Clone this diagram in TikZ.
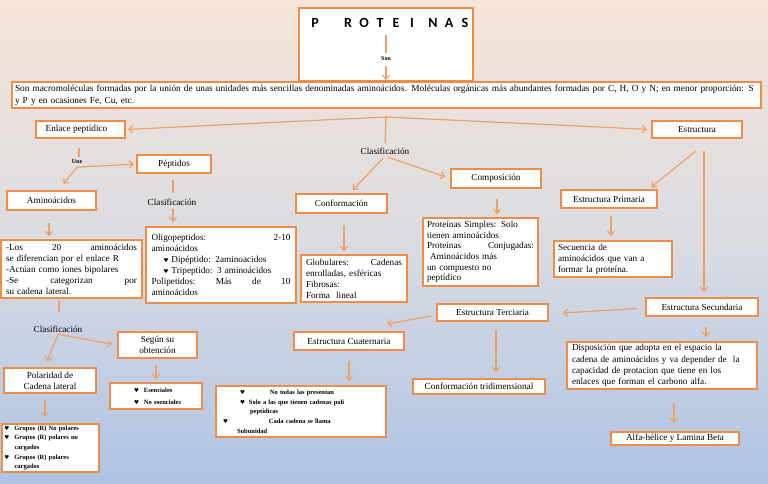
\documentclass[tikz,border=0pt]{standalone}
\usepackage{fontspec}
\setmainfont{Liberation Serif}
\newfontfamily\symf{DejaVu Sans}
\newfontfamily\titf{Carlito}
\usetikzlibrary{arrows.meta}
\definecolor{boxc}{RGB}{240,140,70}
\definecolor{arc}{RGB}{240,160,100}
\definecolor{bgtop}{RGB}{246,229,216}
\definecolor{bgmid}{RGB}{218,220,226}
\definecolor{bgbot}{RGB}{174,195,228}
\newcommand\fsz[2]{\fontsize{#1}{#2}\selectfont}
\newcommand\hrt{{\symf\fontsize{5.5}{6}\selectfont ♥}}
\newcommand\BX[7]{\node[bx,minimum width={(#4-#2)*1pt},minimum height={(#5-#3)*1pt},#6] (#1) at ({(#2+#4)/2},{(#3+#5)/2}) {#7};}
\newcommand\VA[6]{\draw[ar,shorten <=#5pt,shorten >=#6pt] (#1,0 |- #2.south) -- (#1,0 |- #3.north);}
\newcommand\tl[1]{\makebox[16pt]{#1}}
\begin{document}
\begin{tikzpicture}[x=1pt,y=-1pt,
 bx/.style={draw=boxc,line width=1.8pt,fill=white,inner sep=0pt,font=\fsz{9.2}{11}},
 ar/.style={draw=arc,line width=1.2pt,-{Straight Barb[length=4pt,width=7pt]}},
 ln/.style={draw=arc,line width=1.2pt},
 lbl/.style={inner sep=0pt,minimum height=10pt,font=\fsz{9.2}{11}},
 sm/.style={font=\bfseries\fsz{6.5}{9.7}},
 ml/.style={align=left,text width=#1},
]
\fill[top color=bgtop,bottom color=bgbot,middle color=bgmid] (0,0) rectangle (768,484);
\useasboundingbox (0,0) rectangle (768,484);

% title
\BX{prot}{299}{8}{473}{81}{}{}
\node[inner sep=0pt,minimum height=14pt,font=\titf\bfseries\fsz{14}{16}] (tit) at (390,23)
 {\tl{P}\hspace{17pt}\tl{R}\tl{O}\tl{T}\tl{E}\tl{I}\hspace{5pt}\tl{N}\tl{A}\tl{S}};
\node[lbl,font=\bfseries\fsz{6}{7}] (son) at (386,59) {Son};
\BX{big}{12}{82}{761}{108}{ml=743pt,font=\fsz{9.3}{12}}{Son macromoléculas formadas por la unión de unas unidades más sencillas denominadas aminoácidos. Moléculas orgánicas más abundantes formadas por C, H, O y N; en menor proporción: S\\y P y en ocasiones Fe, Cu, etc.}
\draw[ln,shorten <=5pt,shorten >=1pt] (386,0 |- tit.south) -- (386,0 |- son.north);
\draw[ar,shorten <=2pt,shorten >=1pt] (386,0 |- son.south) -- (386,0 |- big.north);

% level 1
\BX{enlace}{36}{121}{125}{138}{}{\hspace*{-8pt}Enlace peptídico}
\BX{estr}{652}{121}{742}{138}{}{Estructura}
\node[lbl] (clas1) at (385,151) {Clasificación};
\coordinate (h1) at (386,117);
\draw[ar,shorten >=2pt] (h1) -- (enlace.east);
\draw[ar,shorten >=4pt] (h1) -- (estr.west);
\draw[ln,shorten >=3pt] (h1) -- (clas1.north);

% left branch
\node[lbl,font=\bfseries\fsz{6}{7}] (une) at (77,162) {Une};
\BX{pept}{137}{155}{211}{173}{}{Péptidos}
\BX{amino}{7}{191}{96}{210}{}{Aminoácidos}
\draw[ln,shorten <=9pt] (79,0 |- enlace.south) -- (79,0 |- une.north);
\draw[ar,shorten >=2pt] (une.south) -- (pept.west);
\draw[ar,shorten >=8pt] (une.south) -- ([xshift=7pt]amino.north);

\BX{aminod}{1}{240}{142}{298}{ml=131pt}{-Los\hfill 20\hfill aminoácidos\\se diferencian por el enlace R\\-Actúan como iones bipolares\\-Se\hfill categorizan\hfill por\\su cadena lateral.}
\VA{49}{amino}{aminod}{}{12}{3}

\node[lbl] (clas2) at (172,202) {Clasificación};
\BX{oligo}{146}{227}{296}{303}{ml=139pt}{Oligopeptidos:\hfill 2-10\\aminoácidos\\\hspace*{12pt}\hrt\ Dipéptido: 2aminoacidos\\\hspace*{12pt}\hrt\ Tripeptido: 3 aminoácidos\\Polipetidos:\hfill Más\hfill de\hfill 10\\aminoácidos}
\draw[ln,shorten <=6pt,shorten >=4pt] (173,0 |- pept.south) -- (173,0 |- clas2.north);
\draw[ar,shorten <=2pt,shorten >=4pt] (173,0 |- clas2.south) -- (173,0 |- oligo.north);

% aminoacid classification
\node[lbl] (clas3) at (58,329) {Clasificación};
\draw[ln,shorten <=2pt,shorten >=12pt] (59,0 |- aminod.south) -- (59,0 |- clas3.north);
\BX{segun}{118}{332}{197}{358}{align=center,font=\fsz{9.2}{10.5}}{Según su\\obtención}
\BX{polar}{4}{368}{96}{393}{align=center,font=\fsz{9.2}{11}}{Polaridad de\\Cadena lateral}
\draw[ar,shorten >=6pt] (clas3.south) -- ([xshift=-5pt]polar.north);
\draw[ar,shorten >=5pt] (clas3.south) -- (segun.west);
\BX{esen}{110}{383}{202}{409}{sm,ml=80pt}{\hspace*{18pt}\hrt\hspace{5pt}Esenciales\\[2pt]\hspace*{18pt}\hrt\hspace{5pt}No esenciales}
\VA{156}{segun}{esen}{}{7}{3}
\BX{grupos}{2}{424}{99}{472}{sm,ml=92pt}{\hrt\hspace{5pt}Grupos (R) No polares\\\hrt\hspace{5pt}Grupos (R) polares no\\\hspace*{10pt}cargados\\\hrt\hspace{5pt}Grupos (R) polares\\\hspace*{10pt}cargados}
\VA{45}{polar}{grupos}{}{7}{6}

% center branch
\BX{conf}{296}{194}{387}{213}{}{Conformación}
\BX{comp}{451}{169}{541}{188}{}{Composición}
\draw[ar,shorten <=3pt,shorten >=4pt] (clas1.south) -- ([xshift=8.5pt]conf.north);
\draw[ar,shorten <=3pt,shorten >=5pt] (clas1.south) -- (comp.west);
\BX{glob}{301}{255}{407}{302}{ml=96pt}{Globulares:\hfill Cadenas\\enrolladas, esféricas\\Fibrosas:\\Forma\ \ lineal}
\VA{344}{conf}{glob}{}{12}{3}
\BX{simp}{423}{218}{538}{286}{ml=107pt,font=\fsz{9.2}{10.6}}{Proteínas Simples: Solo\\tienen aminoácidos\\Proteínas\hfill Conjugadas:\\\ Aminoácidos más\\un compuesto no\\peptídico}
\VA{497}{comp}{simp}{}{10}{3}

% right branch
\BX{eprim}{561}{190}{657}{208}{}{Estructura Primaria}
\BX{secu}{554}{241}{672}{277}{ml=110pt}{Secuencia de\\aminoácidos que van a\\formar la proteína.}
\BX{esec}{646}{298}{758}{316}{}{Estructura Secundaria}
\draw[ar,shorten >=3pt] ([xshift=-1pt,yshift=-12pt]estr.south) -- ([xshift=-9pt]eprim.north east);
\VA{704}{estr}{esec}{}{12}{5}
\VA{611}{eprim}{secu}{}{7}{4}
\BX{eter}{437}{304}{548}{321}{}{Estructura Terciaria}
\draw[ar] ([xshift=-8pt,yshift=-1.5pt]esec.west) -- ([xshift=14pt,yshift=-0.5pt]eter.east);
\BX{ecua}{294}{332}{404}{350}{}{Estructura Cuaternaria}
\draw[ar] ([xshift=-5pt,yshift=-3.5pt]eter.west) -- ([xshift=-18pt,yshift=7pt]ecua.north east);
\BX{conft}{413}{379}{545}{394}{}{Conformación tridimensional}
\VA{496}{eter}{conft}{}{8}{6}
\BX{ecuad}{216}{386}{386}{437}{sm,ml=162pt}{\hspace*{20pt}\hrt\hspace{25pt}No todas las presentan\\\hspace*{20pt}\hrt\hspace{4pt}Solo a las que tienen cadenas poli\\\hspace*{30pt}peptídicas\\\hspace*{3pt}\hrt\hspace{41pt}Cada cadena se llama\\\hspace*{17pt}Subunidad}
\VA{349}{ecua}{ecuad}{}{10}{4}
\BX{disp}{567}{342}{757}{389}{ml=180pt,font=\fsz{9.2}{11.3}}{Disposición que adopta en el espacio la\\cadena de aminoácidos y va depender de\ \ la\\capacidad de protacion que tiene en los\\enlaces que forman el carbono alfa.}
\VA{706}{esec}{disp}{}{10}{4}
\BX{alfa}{611}{432}{739}{445}{}{Alfa-hélice y Lamina Beta}
\VA{674}{disp}{alfa}{}{13}{8}
\end{tikzpicture}
\end{document}
